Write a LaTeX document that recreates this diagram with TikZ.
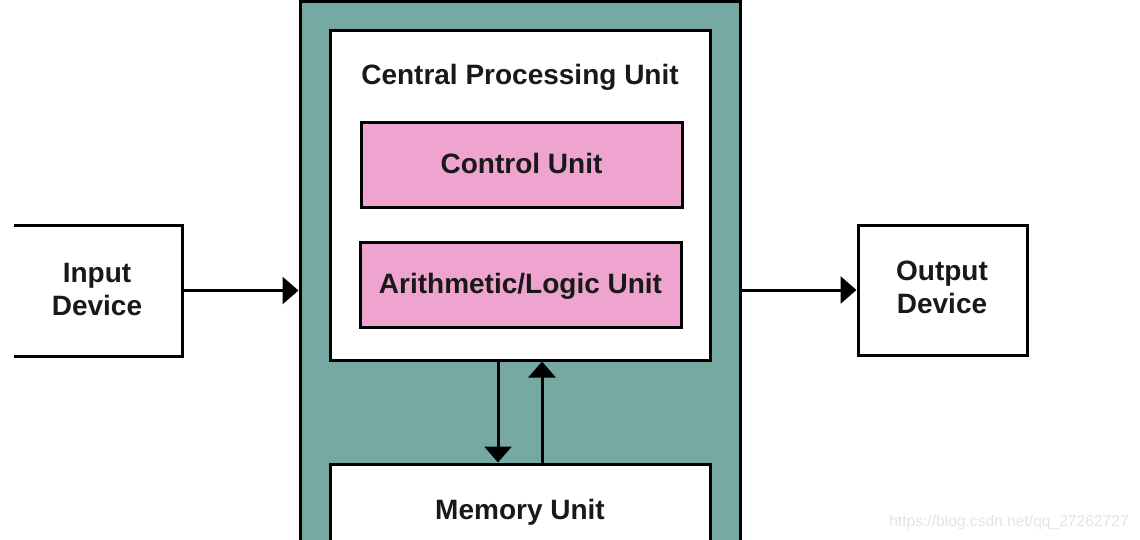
\documentclass[tikz,border=0pt]{standalone}
\usepackage{fontspec}
\setmainfont{Liberation Sans}
\usetikzlibrary{arrows.meta}
\definecolor{tealbg}{RGB}{118,169,162}
\definecolor{pinkbg}{RGB}{238,164,206}
\definecolor{wmgray}{RGB}{228,228,228}
\begin{document}
\begin{tikzpicture}[x=0.5pt,y=-0.5pt,
  box/.style={draw=black, line width=1.5pt, inner sep=0pt, outer sep=0pt},
  lbl/.style={font=\fontsize{14}{16.5}\selectfont\bfseries, align=center, inner sep=0pt, text=black!90},
  conn/.style={line width=1.5pt, -{Triangle[length=8pt,width=13.5pt]}}]
\useasboundingbox (0,0) rectangle (1140,540);
\fill[white] (0,0) rectangle (1140,540);
\clip (0,0) rectangle (1140,540);
% outer teal computer box
\node[box, fill=tealbg, minimum width=220pt, minimum height=299pt] (outer) at (520,301) {};
% CPU
\node[box, fill=white, minimum width=190pt, minimum height=164.5pt] (cpu) at (520,195.5) {};
\node[lbl, anchor=base] (cputitle) at (520,85) {Central Processing Unit};
\node[box, fill=pinkbg, minimum width=160.5pt, minimum height=42pt] (cu) at (521.5,165) {};
\node[lbl, anchor=base] (cutext) at (521.5,173) {Control Unit};
\node[box, fill=pinkbg, minimum width=160.5pt, minimum height=42.5pt] (alu) at (520.5,284.5) {};
\node[lbl, anchor=base] (alutext) at (520.5,293) {Arithmetic/Logic Unit};
% Memory
\node[box, fill=white, minimum width=190pt, minimum height=78pt] (mem) at (520,542) {};
\node[lbl, anchor=base] (memtext) at (520,519) {Memory Unit};
% Input device (left edge cut off)
\begin{scope}
\clip (14,0) rectangle (1140,540);
\node[box, fill=white, minimum width=85pt, minimum height=65.5pt] (in) at (97,290.5) {};
\end{scope}
\node[lbl] (intext) at (97,289.5) {Input\\Device};
% Output device
\node[box, fill=white, minimum width=84.5pt, minimum height=65pt] (out) at (942.5,290) {};
\node[lbl] (outtext) at (942,287) {Output\\Device};
% connectors
\draw[conn, shorten >=0.75pt] (in.east) -- (in.east -| outer.west);
\draw[conn, shorten >=0.75pt] (outer.east |- out.west) -- (out.west);
\draw[conn, shorten >=0.75pt] ([xshift=-11pt]cpu.south) -- ([xshift=-11pt]cpu.south |- mem.north);
\draw[conn, shorten >=0.75pt] ([xshift=11pt]mem.north) -- ([xshift=11pt]mem.north |- cpu.south);
% watermark
\node[font=\fontsize{7.8}{9}\selectfont, text=wmgray, inner sep=0pt] (wm) at (1009,522) {https://blog.csdn.net/qq\_27262727};
\end{tikzpicture}
\end{document}
